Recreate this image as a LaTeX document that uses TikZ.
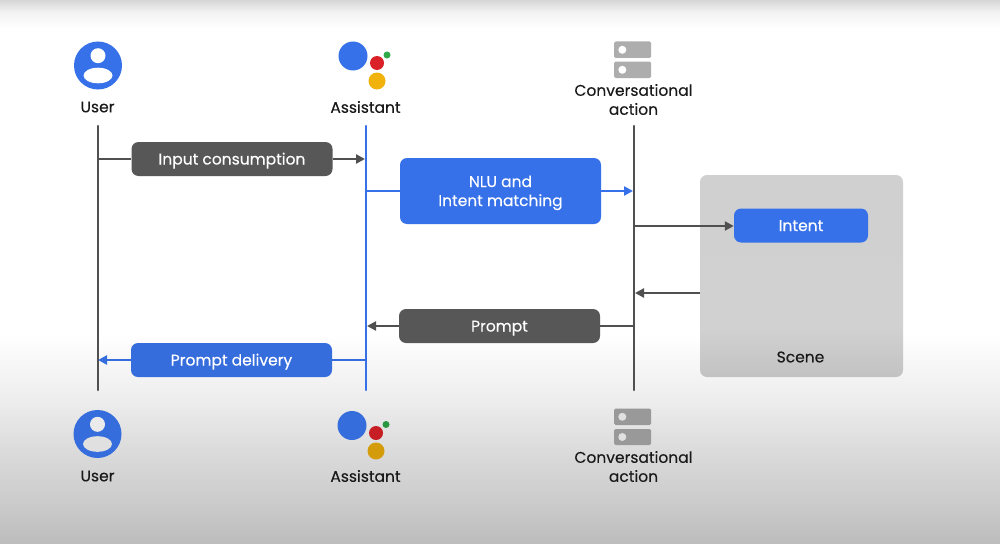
\documentclass[tikz,border=0pt]{standalone}
\usepackage{fontspec}
\setmainfont{Poppins}[FakeBold=0.25]
\usetikzlibrary{arrows.meta}
\definecolor{gblue}{HTML}{3671E9}
\definecolor{gblued}{HTML}{366DDD}
\definecolor{gdark}{HTML}{575757}
\definecolor{gline}{HTML}{505050}
\definecolor{gredA}{HTML}{D92127}
\definecolor{gyelA}{HTML}{F2B20C}
\definecolor{ggrnA}{HTML}{30AA48}
\definecolor{gredB}{HTML}{C61E24}
\definecolor{gyelB}{HTML}{D49B0A}
\definecolor{ggrnB}{HTML}{2A963E}
\pgfdeclareverticalshading{slidebg}{100bp}{
 rgb(0bp)=(.74,.74,.74); rgb(25bp)=(.74,.74,.74);
 rgb(29bp)=(.80,.80,.80); rgb(33.6bp)=(.86,.86,.86); rgb(38.2bp)=(.93,.93,.93);
 rgb(44.2bp)=(1,1,1); rgb(72.4bp)=(1,1,1); rgb(73.9bp)=(.95,.95,.95);
 rgb(75bp)=(.84,.84,.84); rgb(100bp)=(.84,.84,.84)}
\pgfdeclareverticalshading{scenebg}{100bp}{
 rgb(0bp)=(.76,.76,.76); rgb(25bp)=(.76,.76,.76); rgb(37bp)=(.815,.82,.815);
 rgb(75bp)=(.815,.815,.815); rgb(100bp)=(.815,.815,.815)}
\tikzset{
 x=1pt,y=-1pt,
 pill/.style={rounded corners=7pt,text=white,font=\fontsize{15.5}{19}\selectfont,align=center,inner sep=0pt,minimum height=34pt,minimum width=201pt,anchor=center,text height=11pt,text depth=0pt},
 label/.style={text=black!90,font=\fontsize{15.5}{19}\selectfont,align=center,inner sep=0pt},
 ln/.style={line width=2.4pt,line cap=round},
 arr/.style={line width=2.3pt,-{Triangle[length=9pt,width=9pt]}},
 plain/.style={line width=2.3pt},
}
\begin{document}
\begin{tikzpicture}
\useasboundingbox (0,0) rectangle (1000,543);
\shade[shading=slidebg] (0,0) rectangle (1000,543);
% scene panel
\node[shading=scenebg,rounded corners=7pt,minimum width=203pt,minimum height=202pt,inner sep=0pt] (scene) at (801.5,276) {};
\node[label] (scenelabel) at (800.5,357) {Scene};
% lifelines
\coordinate (ut) at (98,126); \coordinate (ub) at (98,390);
\coordinate (at) at (366,126); \coordinate (ab) at (366,390);
\coordinate (ct) at (634,126); \coordinate (cb) at (634,390);
\draw[ln,gline] (ut) -- (ub);
\draw[ln,gblue] (at) -- (ab);
\draw[ln,gline] (ct) -- (cb);
% boxes
\node[pill,fill=gdark] (input) at (232,159) {Input consumption};
\node[pill,fill=gblue,minimum height=66pt,text height=30pt] (nlu) at (500.5,191) {NLU and\\Intent matching};
\node[pill,fill=gblue,minimum width=134pt] (intent) at (801,225.5) {Intent};
\node[pill,fill=gdark] (prompt) at (499.5,326) {Prompt};
\node[pill,fill=gblued] (delivery) at (231.5,360) {Prompt delivery};
% connectors
\coordinate (i0) at (98,159); \coordinate (i1) at (365,159);
\draw[plain,gline] (i0) -- (input.west);
\draw[arr,gline] (input.east) -- (i1);
\coordinate (n0) at (366,191); \coordinate (n1) at (633,191);
\draw[plain,gblue] (n0) -- (nlu.west);
\draw[arr,gblue] (nlu.east) -- (n1);
\coordinate (t0) at (634,226);
\draw[arr,gline] (t0) -- (intent.west |- t0);
\coordinate (s0) at (700,293); \coordinate (s1) at (635,293);
\draw[arr,gline] (s0) -- (s1);
\coordinate (p0) at (634,326); \coordinate (p1) at (367,326);
\draw[plain,gline] (p0) -- (prompt.east);
\draw[arr,gline] (prompt.west) -- (p1);
\coordinate (d0) at (366,360); \coordinate (d1) at (98,360);
\draw[plain,gblued] (d0) -- (delivery.east);
\draw[arr,gblued] (delivery.west) -- (d1);
% top user icon
\fill[gblue] (98,65.5) circle[radius=24];
\fill[white] (98,55.7) circle[radius=7.5];
\fill[white] (98,75.5) ellipse[x radius=14.5,y radius=7.8];
\node[label] (user1) at (97.5,107) {User};
% bottom user icon
\fill[gblued] (97.5,434) circle[radius=24];
\fill[white!92!black] (97.5,424.3) circle[radius=7.5];
\fill[white!88!black] (97.5,444) ellipse[x radius=14.5,y radius=7.8];
\node[label] (user2) at (97.5,476) {User};
% top assistant icon
\fill[gblue] (353,56) circle[radius=14.5];
\fill[gredA] (377,63) circle[radius=7];
\fill[gyelA] (377,81) circle[radius=8.5];
\fill[ggrnA] (387,55) circle[radius=3.5];
\node[label] (asst1) at (365.5,107) {Assistant};
% bottom assistant icon
\fill[gblued] (352,425.5) circle[radius=14.5];
\fill[gredB] (376,433) circle[radius=7];
\fill[gyelB] (376,451) circle[radius=8.5];
\fill[ggrnB] (386,424.5) circle[radius=3.5];
\node[label] (asst2) at (365.5,476) {Assistant};
% top server icon
\fill[black!32,rounded corners=1.5pt] (614,41.5) rectangle (651,58);
\fill[black!32,rounded corners=1.5pt] (614,61.5) rectangle (651,78);
\fill[white] (622.3,49.8) circle[radius=4];
\fill[white] (622.3,69.8) circle[radius=4];
\node[label] (conv1) at (633.5,99.5) {Conversational\\action};
% bottom server icon
\fill[black!40,rounded corners=1.5pt] (614,408.5) rectangle (651,425);
\fill[black!40,rounded corners=1.5pt] (614,429) rectangle (651,445);
\fill[white!88!black] (622.3,416.8) circle[radius=4];
\fill[white!88!black] (622.3,437) circle[radius=4];
\node[label] (conv2) at (633.5,466.5) {Conversational\\action};
\end{tikzpicture}
\end{document}
